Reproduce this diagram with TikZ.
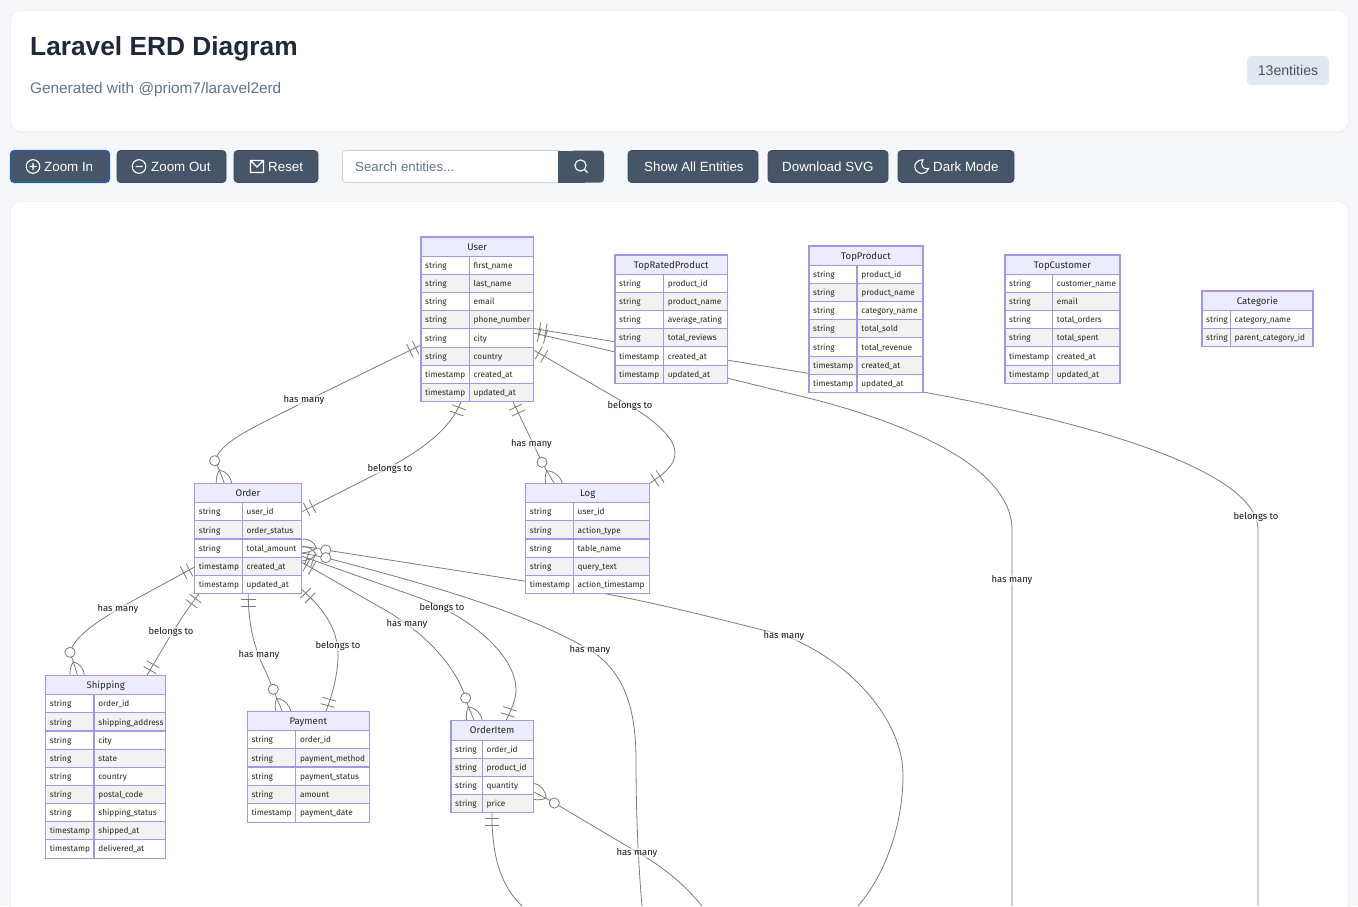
\documentclass[tikz,border=0pt]{standalone}
\usepackage{fontspec}
\setmainfont{Liberation Sans}
\newfontfamily\erfont{Fira Sans}
\usetikzlibrary{calc}
\definecolor{pagebg}{HTML}{F5F7FB}
\definecolor{inkdark}{HTML}{1E293B}
\definecolor{inkmid}{HTML}{64748B}
\definecolor{btnfill}{HTML}{475569}
\definecolor{btnblue}{HTML}{1D5FBF}
\definecolor{badgefill}{HTML}{E2E8F0}
\definecolor{erborder}{HTML}{A596E2}
\definecolor{ertitle}{HTML}{ECECFF}
\definecolor{errow}{HTML}{F2F2F2}
\definecolor{erwire}{HTML}{7C7C7C}
\pgfdeclarelayer{back}\pgfdeclarelayer{wires}
\pgfsetlayers{back,wires,main}
\newcommand\erus{\kern-.5pt\textunderscore\kern-.5pt}
\tikzset{
  x=1pt,y=-1pt,
  card/.style={fill=white,draw=none,rounded corners=10pt},
  cardshadow/.style={fill=black!5,draw=none,rounded corners=11pt},
  btn/.style={fill=btnfill,draw=btnfill!85!black,line width=.6pt,rounded corners=3.5pt},
  btntext/.style={text=white,font=\fontsize{13.35}{16}\selectfont,anchor=west,inner sep=0pt},
  icon/.style={draw=white,line width=1.1pt},
  conn/.style={draw=erwire,line width=.8pt},
  erframe/.style={draw=none,inner sep=0pt,outer sep=0pt,anchor=north west},
  ertext/.style={font=\erfont\fontsize{8.25}{10}\selectfont,text=black!85,inner sep=0pt,anchor=base west},
  ertitletext/.style={font=\erfont\fontsize{9.6}{11}\selectfont,text=black!85,inner sep=0pt,anchor=base},
  lab/.style={font=\erfont\fontsize{9.4}{12}\selectfont,text=black!90,inner sep=.6pt,fill=white,fill opacity=.55,text opacity=1,yshift=-1pt},
}
\newcommand\errh{18.13}
% #1 name, #2 x, #3 y, #4 column offset, #5 width, #6 height, #7 rows
\newcommand\erentity[7]{%
  \node[erframe,minimum width=#5pt,minimum height=#6pt] (#1) at (#2,#3) {};
  \fill[white] (#2,#3) rectangle ++(#5,#6);
  \fill[ertitle] (#2,#3) rectangle ++(#5,19.4);
  \node[ertitletext] (#1-title) at ($(#1.north west)+(#5/2,13)$) {#1};
  \foreach \ty/\nm [count=\i] in {#7}{%
    \pgfmathsetmacro\ry{19.4+(\i-1)*\errh}%
    \pgfmathparse{int(mod(\i,2))}%
    \ifnum\pgfmathresult=0
      \fill[errow] ($(#1.north west)+(1,\ry)$) rectangle ($(#1.north west)+(#5-1,\ry+\errh)$);
    \fi
    \node[ertext] (#1-t\i) at ($(#1.north west)+(4,\ry+12.2)$) {\ty};
    \node[ertext] (#1-n\i) at ($(#1.north west)+(#4+4.2,\ry+12.2)$) {\nm};
    \draw[erborder,line width=1.1pt] ($(#1.north west)+(0,\ry)$) -- ++(#5,0);
  }
  \draw[erborder,line width=1.1pt] ($(#1.north west)+(#4,19.4)$) -- ($(#1.south west)+(#4,0)$);
  \draw[erborder,line width=1.2pt] (#1.north west) rectangle (#1.south east);
}
\newcommand\pin[4]{\coordinate (#1) at ([shift={(#3,#4)}]#2.north west);}
\newcommand\erbars[2]{\begin{scope}[shift={(#1)},rotate=#2]
  \draw[conn] (6,-7.2) -- (6,7.2) (12.5,-7.2) -- (12.5,7.2);
\end{scope}}
% circle, apex, leg a, leg b, bend a, bend b
\newcommand\ercrow[6]{%
  \draw[conn] #2 to[bend right=#5] #3;
  \draw[conn] #2 to[bend left=#6] #4;
  \draw[conn,fill=white] #1 circle[radius=5.1pt];
}
\begin{document}
\begin{tikzpicture}
\useasboundingbox (0,0) rectangle (1358,906);
\begin{pgfonlayer}{back}
\fill[pagebg] (0,0) rectangle (1358,906);
\fill[cardshadow] (9.5,10.5) rectangle (1349.5,133);
\fill[card] (11,11) rectangle (1348,131);
\fill[cardshadow] (9.5,201) rectangle (1349.5,930);
\fill[card] (11,202) rectangle (1348,930);
\end{pgfonlayer}

% header
\node[anchor=base west,inner sep=0pt,text=inkdark,font=\bfseries\fontsize{26.3}{30}\selectfont] (title) at (30,55) {Laravel ERD Diagram};
\node[anchor=base west,inner sep=0pt,text=inkmid,font=\fontsize{15.35}{18}\selectfont] (subtitle) at (30,93.5) {Generated with @priom7/laravel2erd};
\node[fill=badgefill,rounded corners=4pt,minimum width=82pt,minimum height=29pt,inner sep=0pt,text=btnfill,font=\fontsize{14.1}{16}\selectfont] (badge) at (1288,70.5) {13entities};

% toolbar
\draw[fill=btnfill,draw=btnblue,line width=1.3pt,rounded corners=4pt] (10.5,150.5) rectangle (109.5,182.5);
\draw[icon] (33,166.5) circle[radius=6.8pt] (29.5,166.5) -- (36.5,166.5) (33,163) -- (33,170);
\node[btntext] (bZoomIn) at (44,166.5) {Zoom In};
\draw[btn] (117,150.5) rectangle (226,182.5);
\draw[icon] (139,166.5) circle[radius=6.8pt] (135.5,166.5) -- (142.5,166.5);
\node[btntext] (bZoomOut) at (151,166.5) {Zoom Out};
\draw[btn] (234,150.5) rectangle (318,182.5);
\draw[icon] (250.5,160.5) rectangle (263.5,172.5) (250.5,160.5) -- (257,167) -- (263.5,160.5);
\node[btntext] (bReset) at (268,166.5) {Reset};
\draw[draw=black!18,fill=white,line width=.7pt,rounded corners=3.5pt] (342.5,150.5) rectangle (562,182.5);
\node[anchor=west,inner sep=0pt,text=inkmid,font=\fontsize{13.3}{16}\selectfont] (search) at (355,166.5) {Search entities...};
\fill[btnfill,rounded corners=3.5pt] (570,150.5) rectangle (604,182.5);
\fill[btnfill] (558,150.5) rectangle (585,182.5);
\draw[icon] (580.5,165.5) circle[radius=5.6pt] (584.5,169.5) -- (587.5,172.5);
\draw[btn] (628,150.5) rectangle (758,182.5);
\node[btntext] (bShow) at (644,166.5) {Show All Entities};
\draw[btn] (768,150.5) rectangle (888,182.5);
\node[btntext] (bDown) at (782,166.5) {Download SVG};
\draw[btn] (898,150.5) rectangle (1014,182.5);
\draw[icon] (923,159.8) .. controls (916,160) and (914.5,165) .. (914.8,167) .. controls (915.2,171) and (919,173.5) .. (922,173.5) .. controls (925,173.5) and (928,171.5) .. (928.5,168.5) .. controls (924,170) and (919.5,166) .. (923,159.8) -- cycle;
\node[btntext] (bDark) at (933,166.5) {Dark Mode};

% entities
\erentity{User}{421}{237}{48.3}{112.5}{164.7}{string/first\erus name,string/last\erus name,string/email,string/phone\erus number,string/city,string/country,timestamp/created\erus at,timestamp/updated\erus at}
\erentity{TopRatedProduct}{615}{255}{48.5}{112.5}{128.3}{string/product\erus id,string/product\erus name,string/average\erus rating,string/total\erus reviews,timestamp/created\erus at,timestamp/updated\erus at}
\erentity{TopProduct}{809}{246}{48}{114}{146.3}{string/product\erus id,string/product\erus name,string/category\erus name,string/total\erus sold,string/total\erus revenue,timestamp/created\erus at,timestamp/updated\erus at}
\erentity{TopCustomer}{1005}{255}{47.5}{115}{128.3}{string/customer\erus name,string/email,string/total\erus orders,string/total\erus spent,timestamp/created\erus at,timestamp/updated\erus at}
\erentity{Categorie}{1202}{291}{28.3}{111}{55.7}{string/category\erus name,string/parent\erus category\erus id}
\erentity{Order}{194.7}{483.3}{47.6}{106.6}{110.4}{string/user\erus id,string/order\erus status,string/total\erus amount,timestamp/created\erus at,timestamp/updated\erus at}
\erentity{Log}{525.7}{483.3}{47.6}{124}{110.4}{string/user\erus id,string/action\erus type,string/table\erus name,string/query\erus text,timestamp/action\erus timestamp}
\erentity{Shipping}{45.7}{675.3}{48.3}{120}{183}{string/order\erus id,string/shipping\erus address,string/city,string/state,string/country,string/postal\erus code,string/shipping\erus status,timestamp/shipped\erus at,timestamp/delivered\erus at}
\erentity{Payment}{247.3}{711.3}{48.4}{122}{111}{string/order\erus id,string/payment\erus method,string/payment\erus status,string/amount,timestamp/payment\erus date}
\erentity{OrderItem}{451}{720.7}{31.3}{82.3}{92}{string/order\erus id,string/product\erus id,string/quantity,string/price}

% connector ends
\pin{UOm}{User}{0}{108}
\pin{UOb}{User}{40}{164.7}
\pin{ULm}{User}{92}{164.7}
\pin{ULb}{User}{112.5}{113}
\pin{UTa}{User}{112.5}{91.5}
\pin{UTb}{User}{112.5}{96}
\pin{OUm}{Order}{29.6}{0}
\pin{OUb}{Order}{106.6}{28.7}
\pin{Oca}{Order}{106.6}{62.7}
\pin{Ocb}{Order}{106.6}{69.7}
\pin{Obt}{Order}{106.6}{72.7}
\pin{Ohm}{Order}{106.6}{78.7}
\pin{Obr}{Order}{106.6}{105.7}
\pin{Osh}{Order}{0}{83.7}
\pin{Osb}{Order}{4.3}{110.4}
\pin{Opm}{Order}{53.6}{110.4}
\pin{Lm}{Log}{28.6}{0}
\pin{Lb}{Log}{124}{0}
\pin{Sm}{Shipping}{31.8}{0}
\pin{Sb}{Shipping}{101.3}{0}
\pin{Pm}{Payment}{35}{0}
\pin{Pb}{Payment}{78.7}{0}
\pin{Im}{OrderItem}{23.3}{0}
\pin{Ib}{OrderItem}{55}{0}
\pin{Ibot}{OrderItem}{40.9}{92}
\pin{Ir}{OrderItem}{82.3}{71}
\coordinate (endA) at (1258,906);
\coordinate (endB) at (1012,906);
\coordinate (endC) at (858,906);
\coordinate (endD) at (642,906);
\coordinate (endE) at (522,906);
\coordinate (endF) at (702,906);

\begin{pgfonlayer}{wires}
\draw[conn] (UOm) -- (300,404) .. controls (255,427) and (222,440) .. (214.7,460.7) -- (219.3,470) -- (OUm);
\draw[conn] (UOb) .. controls (452,425) and (430,445) .. (390,467) -- (OUb);
\draw[conn] (ULm) -- (542,462.3) -- (546.7,470.7) -- (Lm);
\draw[conn] (ULb) -- (637,410) .. controls (660,425) and (675,440) .. (675,453) .. controls (675,465) and (665,473) .. (Lb);
\draw[conn] (UTa) -- (923,392) .. controls (1060,417) and (1258,465) .. (1258,530) -- (endA);
\draw[conn] (UTb) -- (727,378) -- (800,396) .. controls (900,420) and (1012,465) .. (1012,530) -- (endB);
\draw[conn] (Oca) -- (325.7,550) -- (607,594) .. controls (670,606) and (730,622) .. (783,635) .. controls (850,660) and (903,720) .. (903,775) .. controls (903,825) and (885,875) .. (endC);
\draw[conn] (Ocb) -- (325.7,557.7) .. controls (430,585) and (520,610) .. (590,650) .. controls (625,672) and (636,710) .. (636,760) .. controls (636,810) and (638,860) .. (endD);
\draw[conn] (Obt) -- (420,598) .. controls (470,617) and (516,655) .. (516,690) .. controls (516,700) and (511,710) .. (Ib);
\draw[conn] (Ohm) -- (385,610) .. controls (425,633) and (455,665) .. (465.7,698) -- (468.3,706.7) -- (Im);
\draw[conn] (Obr) .. controls (325,610) and (338,630) .. (338,655) .. controls (338,675) and (332,695) .. (Pb);
\draw[conn] (Opm) .. controls (248,625) and (255,650) .. (265,670) -- (273.3,689.3) -- (276.7,698.3) -- (Pm);
\draw[conn] (Osh) -- (125,605) .. controls (100,620) and (75,635) .. (70,652.3) -- (73.3,661.7) -- (Sm);
\draw[conn] (Osb) .. controls (180,618) and (165,645) .. (Sb);
\draw[conn] (Ibot) .. controls (491.9,855) and (500,885) .. (endE);
\draw[conn] (Ir) -- (546,798.3) -- (554.3,803) -- (637,852) .. controls (665,868) and (685,885) .. (endF);

\erbars{UOm}{206}
\erbars{UOb}{250}
\erbars{ULm}{296}
\erbars{ULb}{330}
\erbars{UTa}{350}
\erbars{UTb}{343}
\erbars{OUb}{27}
\erbars{Lb}{33}
\erbars{Osh}{208}
\erbars{Osb}{233}
\erbars{Opm}{270}
\erbars{Obr}{315}
\erbars{Obt}{340}
\erbars{Ohm}{330}
\erbars{Sb}{61}
\erbars{Pb}{75}
\erbars{Ib}{72}
\erbars{Ibot}{270}

\ercrow{(214.7,460.7)}{(219.3,470)}{(216.3,483.3)}{(231.7,483.3)}{15}{35}
\ercrow{(542,462.3)}{(546.7,470.7)}{(545.7,483.3)}{(562.3,483.3)}{15}{35}
\ercrow{(70,652.3)}{(73.3,661.7)}{(70,675.3)}{(84.3,675.3)}{15}{35}
\ercrow{(273.3,689.3)}{(276.7,698.3)}{(275.7,711.3)}{(290.7,711.3)}{15}{35}
\ercrow{(465.7,698)}{(468.3,706.7)}{(466.7,720.7)}{(482.3,720.7)}{15}{35}
\ercrow{(554.3,803)}{(546,798.3)}{(533.3,783.3)}{(533.3,799.3)}{40}{15}
\ercrow{(325.7,550)}{(316.5,548)}{(301.3,539.3)}{(301.3,553)}{40}{15}
\ercrow{(325.7,557.7)}{(316.5,555)}{(301.3,547)}{(301.3,561)}{35}{15}
\end{pgfonlayer}

% relationship labels
\node[lab] (l1) at (304,399) {has many};
\node[lab] (l2) at (390,468) {belongs to};
\node[lab] (l3) at (531.5,443) {has many};
\node[lab] (l4) at (630,405) {belongs to};
\node[lab] (l5) at (1012,579) {has many};
\node[lab] (l6) at (1256,516) {belongs to};
\node[lab] (l7) at (118,608) {has many};
\node[lab] (l8) at (171,631) {belongs to};
\node[lab] (l9) at (259,654) {has many};
\node[lab] (l10) at (338,645) {belongs to};
\node[lab] (l11) at (407,623) {has many};
\node[lab] (l12) at (442,607) {belongs to};
\node[lab] (l13) at (590,649) {has many};
\node[lab] (l14) at (784,635) {has many};
\node[lab] (l15) at (637,852) {has many};
\end{tikzpicture}
\end{document}
